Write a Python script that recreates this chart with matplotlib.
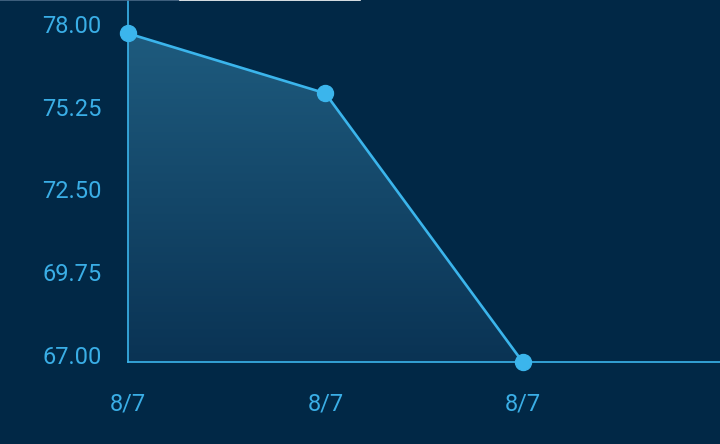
import matplotlib
matplotlib.use('Agg')
import matplotlib.pyplot as plt
import matplotlib.transforms as mtransforms
from matplotlib.patches import Polygon
from matplotlib.colors import LinearSegmentedColormap
import numpy as np

plt.rcParams['font.family'] = ['Roboto', 'DejaVu Sans']

# data
x_labels = ['8/7', '8/7', '8/7']
values = [77.92, 75.93, 67.0]
y_ticks = [67.00, 69.75, 72.50, 75.25, 78.00]

bg = '#012846'
line_col = '#3bb5ec'
text_col = '#3aaee6'

fig = plt.figure(figsize=(7.2, 4.44), dpi=100, facecolor=bg)
ax = fig.add_axes([128 / 720, (444 - 362) / 444, 1 - 128 / 720, 362 / 444])
ax.set_facecolor(bg)

xs = np.arange(len(values))
ax.set_xlim(0, 3)
ax.set_ylim(67, 79.03)

# gradient fill under the line
cmap = LinearSegmentedColormap.from_list('fill', ['#0a3354', '#1e5b7e'])
grad = np.linspace(0, 1, 256).reshape(-1, 1)
img = ax.imshow(grad, cmap=cmap, origin='lower', aspect='auto',
                extent=[xs[0], xs[-1], 67, max(values)], zorder=1)
poly = Polygon(list(zip(xs, values)) + [(xs[-1], 67), (xs[0], 67)],
               closed=True, facecolor='none', edgecolor='none')
ax.add_patch(poly)
img.set_clip_path(poly)

ax.plot(xs, values, color=line_col, lw=1.9, zorder=3, clip_on=False)
ax.plot(xs, values, 'o', color=line_col, markersize=11.5, zorder=4, clip_on=False)

for side in ['top', 'right']:
    ax.spines[side].set_visible(False)
for side in ['left', 'bottom']:
    ax.spines[side].set_color(line_col)
    ax.spines[side].set_linewidth(1.2)

ax.set_yticks(y_ticks)
ax.set_yticklabels(['%.2f' % v for v in y_ticks])
ax.set_xticks(xs)
ax.set_xticklabels(x_labels)
ax.tick_params(axis='y', length=0, pad=19, labelsize=17, labelcolor=text_col)
ax.tick_params(axis='x', length=0, pad=22, labelsize=17, labelcolor=text_col)

shift = mtransforms.ScaledTranslation(0, 0.07, fig.dpi_scale_trans)
for lab in ax.get_yticklabels():
    lab.set_transform(lab.get_transform() + shift)

# thin strip along the top edge
fig.add_artist(plt.Line2D([0, 180 / 720], [0.999, 0.999], color='#4a6a88', lw=1.2,
                          transform=fig.transFigure))
fig.add_artist(plt.Line2D([180 / 720, 360 / 720], [0.999, 0.999], color='white', lw=1.2,
                          transform=fig.transFigure))

fig.savefig('out.png', dpi=100, facecolor=bg)
